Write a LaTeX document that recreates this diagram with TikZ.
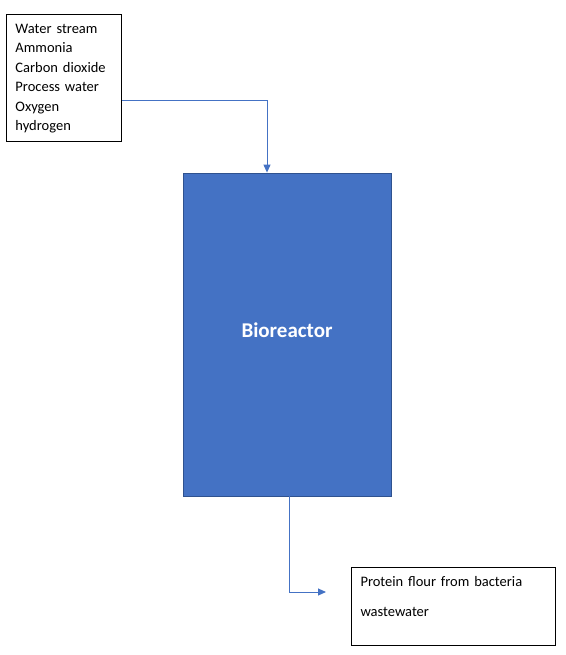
\documentclass[tikz,border=0pt]{standalone}
\usepackage{fontspec}
\setmainfont{Carlito}
\usetikzlibrary{arrows.meta,positioning,calc}
\definecolor{steel}{RGB}{68,114,196}
\definecolor{steeledge}{RGB}{47,82,143}
\tikzset{
  >={Triangle[length=8pt,width=7pt]},
  listbox/.style={draw=black,line width=1pt,fill=white,align=left,anchor=north west,
    inner xsep=9pt,font=\fontsize{14.5}{19.5}\selectfont},
  vessel/.style={draw=steeledge,line width=0.8pt,fill=steel,text=white,
    minimum width=208pt,minimum height=323pt,font=\fontsize{21}{24}\selectfont\bfseries},
  flow/.style={->,line width=1pt,draw=steel},
}

\begin{document}
\begin{tikzpicture}[x=1pt,y=-1pt]
  \useasboundingbox (0,0) rectangle (565,655);
  % feed streams
  \node[listbox,text width=97pt,minimum height=127pt] (inputs) at (6,14.5)
    {Water stream\\Ammonia\\Carbon dioxide\\Process water\\Oxygen\\hydrogen};
  % reactor
  \node[vessel] (reactor) at (287,334.5) {\raisebox{9.5pt}{Bioreactor}};
  % products
  \node[listbox,text width=186pt,inner ysep=9pt,text depth=50pt,
    font=\fontsize{14.5}{30}\selectfont] (products) at (351,567)
    {Protein flour from bacteria\\wastewater};
  \coordinate (out) at (326,592);
  \draw[flow] ([yshift=-22.5pt]inputs.east) -| ([xshift=-20pt]reactor.north);
  \draw[flow] ([xshift=2pt]reactor.south) |- (out);
\end{tikzpicture}
\end{document}
